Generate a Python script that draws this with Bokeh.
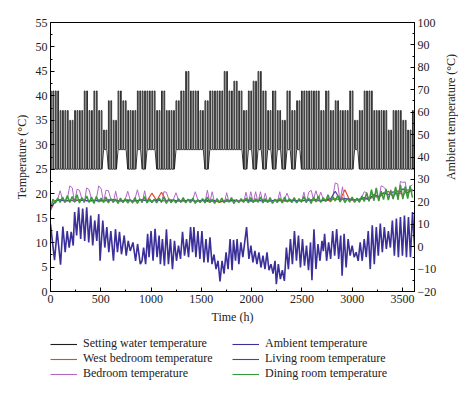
import math
from bokeh.plotting import figure
from bokeh.layouts import column, row
from bokeh.models import (Range1d, LinearAxis, SingleIntervalTicker, Legend, LegendItem, Label)
from bokeh.embed import file_html
from bokeh.resources import INLINE

# ---------------- data ----------------
# Setting water temperature: high / low level in each 48-h block
water_high = [41, 41, 37, 37, 35, 37, 37, 41, 37, 41,
              37, 33, 39, 35, 41, 39, 37, 37, 41, 41,
              41, 41, 37, 41, 37, 37, 39, 41, 45, 41,
              41, 37, 39, 41, 41, 41, 45, 41, 43, 41,
              37, 41, 43, 45, 41, 37, 41, 37, 35, 41,
              37, 39, 41, 41, 41, 41, 37, 41, 37, 39,
              37, 37, 41, 35, 37, 41, 41, 37, 37, 37,
              33, 37, 37, 35, 33, 37]
water_low = [25, 25, 25, 25, 25, 25, 25, 25, 25, 25,
             25, 29, 25, 25, 29, 29, 25, 25, 29, 25,
             29, 29, 25, 25, 25, 25, 29, 29, 29, 29,
             29, 29, 25, 29, 29, 29, 29, 29, 29, 29,
             25, 29, 25, 29, 25, 29, 25, 29, 25, 29,
             25, 29, 25, 25, 25, 25, 25, 25, 25, 25,
             25, 25, 25, 29, 25, 25, 25, 25, 25, 25,
             25, 25, 25, 25, 25, 25]
water_block_h = 48     # hours covered by each list entry
water_day_h = 24       # one switching cycle per day
water_on_h = 8         # hours at the high level in each cycle

# Ambient temperature (right axis): turning points, time (h) and value (°C)
amb_t = [0, 40, 66, 100, 123, 146, 166, 186, 206, 226, 240, 260, 280, 300, 320, 340,
         360, 380, 400, 420, 440, 460, 480, 493, 520, 540, 560, 580, 600, 626, 646, 666,
         686, 706, 733, 753, 773, 793, 820, 846, 866, 893,
         910, 926, 946, 966, 980, 1000, 1020, 1040, 1060, 1080, 1093, 1113, 1133, 1153,
         1173, 1193, 1213, 1233, 1253, 1273, 1293, 1313, 1333, 1353, 1373, 1393, 1413,
         1426, 1446, 1466, 1486, 1506, 1526, 1546, 1566, 1586, 1606, 1626, 1646, 1666,
         1686, 1706, 1726, 1746, 1766, 1786, 1806,
         1820, 1840, 1856, 1873, 1893, 1913, 1933, 1950, 1973, 1993, 2013, 2033, 2053,
         2073, 2093, 2113, 2133, 2153, 2173, 2193, 2213, 2233, 2246, 2266, 2286, 2306,
         2326, 2346, 2366, 2386, 2406, 2426, 2446, 2466, 2486, 2506, 2526, 2546, 2566,
         2586, 2600, 2620, 2640, 2660, 2680, 2700, 2713,
         2726, 2746, 2766, 2786, 2806, 2826, 2846, 2866, 2886, 2900, 2920, 2940, 2960,
         2980, 3000, 3020, 3040, 3060, 3080, 3100, 3120, 3140, 3160, 3180, 3200, 3220,
         3240, 3260, 3280, 3300, 3320, 3340, 3360, 3380, 3400, 3420, 3440, 3460, 3480,
         3500, 3520, 3540, 3560, 3580, 3600, 3620]
amb_v = [10, -6, 7, -8, 9, -2.5, 7, -0.4, 6.6, 0.5, 15.4, 5, 17.6, 3.4, 17, 2.6,
         17.6, 1.9, 13.9, 0.5, 11.7, 2.6, 14.5, -6.3, 11.7, -0.4, 8.7, -2.5, 7, -6.3, 7.8, -2.5,
         6.6, -3.4, 5, -4, 2.6, -1.9, 1.9, -6.3, 1.2, -7.8,
         -6.3, -0.4, -7.8, 5.7, -4.7, 7, -6.3, 8, -4.7, 5, -7.8, 3.4, -8.5, 7.8,
         -7.8, 3.4, -10, 2.6, -6.3, 0.5, -5.5, 6.6, -4, 3.4, -4.7, 8.7, -2.5,
         8.7, -4.7, 7, -5.5, 7, -7, 3.4, -7, 4.2, -7.8, -3.5, -10, -6.3,
         -15.5, -6.3, -12, -2.5, -10, 3.4, -10.5,
         3, -6.3, 3.4, -7.8, 1.9, -4.7, 2.6, 8.7, -5.5, 0.5, -7, -1.9, -7.8,
         -2.5, -9.3, -4, -10, -2.5, -10.5, -7.8, -12, -6.3, -16.7, -7.8, -14.5, -10.5,
         -15.3, -0.4, -10, 3.4, -7.8, 7, -6.3, 5, -9.3, 3.4, -8.5, 0.5, -10.5,
         1.9, -15, 7.8, -10, 1.2, -6.3, 2.6, -2,
         5.7, -6.3, 1.9, -5.5, 7, -4, 7.8, -5.5, 5, -13, 5.7, -9.3, 3.4,
         -4, 0.5, -4.7, -2.5, -6.3, 1.9, -6.3, 3.4, -4.7, 7, -10, 9.5, -7.8,
         8.7, -4, 10.3, -2.5, 8.7, -1, 7, -0.4, 11.7, -4, 12.5, -4.7, 13.2,
         -4, 13.9, -4.7, 13.2, -4.7, 15.4, 0]

# Room temperatures (left axis)
room_step_h = 24
dining = [16.8, 18.9, 18.1, 19.1, 18.2, 19.3, 18.3, 19.6, 18.2, 19.4,
          18.3, 19.8, 18.1, 19.2, 18.4, 19.5, 18.2, 19.3, 18.0, 19.4,
          18.3, 19.1, 18.2, 19.3, 18.1, 19.0, 18.3, 18.9, 18.0, 19.1,
          18.2, 19.0, 18.1, 18.8, 18.2, 19.2, 18.0, 18.9, 18.3, 19.4,
          18.1, 19.0, 18.2, 18.9, 18.1, 19.1, 18.3, 19.3, 18.0, 19.0,
          18.2, 18.8, 18.1, 19.0, 18.3, 19.2, 18.1, 18.9, 18.2, 19.1,
          18.0, 18.8, 18.2, 19.0, 18.1, 19.3, 18.2, 18.9, 18.0, 19.0,
          18.2, 19.1, 18.1, 18.9, 18.3, 19.2, 18.0, 18.8, 18.2, 19.0,
          18.3, 19.1, 18.1, 19.2, 18.2, 19.0, 18.3, 19.3, 18.1, 19.0,
          18.2, 19.2, 18.0, 18.9, 18.2, 19.1, 18.1, 19.3, 18.3, 19.0,
          18.2, 19.2, 18.1, 19.0, 18.3, 19.4, 18.2, 19.1, 18.0, 19.3,
          18.3, 19.5, 18.2, 19.2, 18.4, 19.8, 18.3, 19.4, 18.5, 19.6,
          18.3, 19.2, 18.2, 19.0, 18.4, 19.3, 18.2, 19.1, 18.3, 19.5,
          18.4, 20.2, 18.5, 20.8, 18.6, 21.2, 18.5, 20.5, 18.8, 21.0,
          18.7, 20.6, 18.9, 21.4, 18.8, 21.8, 18.9, 21.5, 19.0, 21.6, 19.2]
bedroom = [16.5, 18.7, 18.0, 18.9, 20.6, 18.8, 18.1, 19.0, 21.6, 21.2,
           18.2, 20.9, 20.7, 18.9, 18.1, 21.2, 20.8, 18.9, 18.2, 19.0,
           21.6, 21.0, 18.2, 20.7, 20.6, 18.9, 18.1, 20.5, 18.2, 18.9,
           18.1, 18.9, 20.5, 18.8, 18.0, 18.9, 20.8, 18.9, 18.1, 20.6,
           18.2, 18.9, 18.1, 18.8, 18.2, 18.9, 18.1, 20.4, 20.3, 18.9,
           18.1, 18.9, 20.2, 18.8, 18.1, 18.9, 18.2, 18.8, 18.1, 18.9,
           20.4, 18.8, 18.2, 18.9, 18.1, 20.7, 18.2, 20.4, 18.1, 18.9,
           18.2, 18.8, 18.1, 20.2, 18.2, 18.9, 18.0, 18.8, 18.2, 18.9,
           18.1, 20.3, 18.2, 20.4, 18.1, 20.4, 18.2, 20.4, 18.1, 20.1,
           18.2, 18.9, 18.1, 18.8, 18.2, 20.4, 18.1, 18.9, 20.1, 18.8,
           18.2, 18.9, 18.1, 18.9, 18.2, 20.3, 18.1, 20.3, 20.7, 18.9,
           20.6, 18.9, 20.3, 18.9, 18.3, 19.2, 18.4, 19.5, 22.2, 22.0,
           18.5, 21.4, 18.3, 19.0, 18.2, 19.2, 18.3, 19.0, 18.2, 19.3,
           20.4, 20.2, 18.4, 20.3, 18.6, 21.0, 18.5, 21.6, 21.4, 20.8,
           18.8, 20.8, 18.9, 21.2, 18.8, 22.5, 22.3, 22.4, 19.1, 21.5, 21.8]
room2_step_h = 48
west_bedroom = [16.6, 18.6, 18.8, 18.5, 18.7, 18.4, 18.8, 18.6, 18.5, 18.7,
                18.4, 18.6, 18.8, 18.5, 18.6, 18.4, 18.7, 18.5, 18.6, 18.8,
                18.5, 20.1, 18.6, 20.3, 18.5, 18.7, 18.4, 18.6, 18.5, 18.7,
                18.4, 18.6, 18.5, 18.3, 18.6, 18.2, 18.5, 18.4, 18.6, 18.5,
                18.7, 18.5, 18.4, 18.6, 18.5, 18.4, 18.6, 18.5, 18.7, 18.4,
                18.6, 18.5, 18.7, 18.5, 18.8, 18.6, 18.5, 18.7, 18.6, 19.0,
                18.7, 20.8, 18.6, 18.8, 18.7, 19.0, 18.8, 19.5, 19.2, 20.0,
                20.5, 19.4, 20.6, 19.6, 20.8, 20.4]
living_room = [17.0, 18.5, 18.7, 18.6, 18.5, 18.8, 18.6, 18.7, 18.5, 18.6,
               18.7, 18.5, 18.6, 18.8, 18.5, 18.6, 18.7, 18.5, 18.6, 18.7,
               18.6, 18.5, 18.7, 18.6, 18.5, 18.7, 18.6, 18.5, 18.6, 18.7,
               18.5, 18.6, 18.7, 18.5, 18.6, 18.4, 18.5, 18.6, 18.7, 18.5,
               18.6, 18.7, 18.5, 18.6, 18.7, 18.5, 18.6, 18.7, 18.5, 18.6,
               18.7, 18.6, 18.5, 18.7, 18.6, 18.8, 18.6, 18.7, 18.9, 20.5,
               18.8, 19.0, 18.9, 18.7, 18.9, 19.2, 19.0, 19.8, 19.4, 20.2,
               19.8, 20.4, 19.9, 21.0, 20.2, 20.9]

x_ticks_interval = 500
left_ticks_interval = 5
right_ticks_interval = 10

series_labels = ["Setting water temperature", "West bedroom temperature", "Bedroom temperature",
                 "Ambient temperature", "Living room temperature", "Dining room temperature"]
series_colors = ["#1e1e1e", "#e8442c", "#b266c8", "#3b2f9a", "#4a3fa8", "#3a9a3a"]

# ---------------- derived geometry ----------------
wx, wy = [], []
for k, (hi, lo) in enumerate(zip(water_high, water_low)):
    t0 = k * water_block_h
    for j in range(water_block_h // water_day_h):
        a = t0 + j * water_day_h
        wx += [a, a, a + water_on_h, a + water_on_h]
        wy += [lo, hi, hi, lo]

t_room = [i * room_step_h for i in range(len(dining))]
t_room2 = [i * room2_step_h for i in range(len(west_bedroom))]

FONT = "Liberation Serif"
TXT = "#222222"
FW, FH = 364, 269
TOP, LEFT, RIGHT, BOTTOM = 22, 50, 28, 40
MAIN_H = TOP + FH + BOTTOM

p = figure(frame_width=FW, frame_height=FH, x_range=Range1d(0, 3620), y_range=Range1d(0, 55),
           output_backend="svg", toolbar_location=None,
           min_border_left=LEFT, min_border_right=RIGHT, min_border_top=TOP,
           min_border_bottom=BOTTOM)
p.extra_y_ranges = {"amb": Range1d(-20, 100)}

widths = [0.9, 1.2, 1.0, 1.6, 1.2, 1.5]
r_water = p.line(wx, wy, line_color=series_colors[0], line_width=widths[0])
r_west = p.line(t_room2, west_bedroom, line_color=series_colors[1], line_width=widths[1])
r_bed = p.line(t_room, bedroom, line_color=series_colors[2], line_width=widths[2])
r_liv = p.line(t_room2, living_room, line_color=series_colors[4], line_width=widths[4])
r_din = p.line(t_room, dining, line_color=series_colors[5], line_width=widths[5])
r_amb = p.line(amb_t, amb_v, line_color=series_colors[3], line_width=widths[3],
               y_range_name="amb")

ax_r = LinearAxis(y_range_name="amb")
p.add_layout(ax_r, "right")

p.xaxis.ticker = SingleIntervalTicker(interval=x_ticks_interval, num_minor_ticks=2)
p.yaxis[0].ticker = SingleIntervalTicker(interval=left_ticks_interval, num_minor_ticks=2)
ax_r.ticker = SingleIntervalTicker(interval=right_ticks_interval, num_minor_ticks=2)

p.xaxis.axis_label = "Time (h)"
p.yaxis[0].axis_label = "Temperature (°C)"

for ax in p.axis:
    ax.major_tick_in = 4
    ax.major_tick_out = 0
    ax.minor_tick_in = 2
    ax.minor_tick_out = 0
    ax.axis_line_color = "black"
    ax.major_tick_line_color = "black"
    ax.minor_tick_line_color = "black"
    ax.major_label_text_font = FONT
    ax.major_label_text_font_size = "12px"
    ax.major_label_text_color = TXT
    ax.axis_label_text_font = FONT
    ax.axis_label_text_font_size = "12px"
    ax.axis_label_text_font_style = "normal"
    ax.axis_label_text_color = TXT
    ax.major_label_standoff = 3
    ax.axis_label_standoff = 4

p.grid.visible = False
p.outline_line_color = "black"
p.outline_line_alpha = 1

# ---- right-hand axis title (reads bottom-to-top), in its own narrow strip ----
LAB_W = 16
lab = figure(width=LAB_W, height=MAIN_H, x_range=Range1d(0, 1), y_range=Range1d(0, 1),
             output_backend="svg", toolbar_location=None, min_border=0,
             x_axis_location=None, y_axis_location=None)
lab.outline_line_color = None
lab.grid.visible = False
lab.add_layout(Label(x=LAB_W / 2, y=BOTTOM + FH / 2, x_units="screen", y_units="screen",
                     text="Ambient temperature (°C)", angle=math.pi / 2,
                     text_align="center", text_baseline="middle",
                     text_font=FONT, text_font_size="12px", text_color=TXT))

# ---- legend strip below the chart (swatch renderers sit outside the strip's range) ----
LEG_W, LEG_H = LEFT + FW + RIGHT + LAB_W, 62
leg = figure(width=LEG_W, height=LEG_H, x_range=Range1d(0, 1), y_range=Range1d(0, 1),
             output_backend="svg", toolbar_location=None, min_border=0,
             x_axis_location=None, y_axis_location=None)
leg.outline_line_color = None
leg.grid.visible = False
off_range = [-5, -4]
swatches = [leg.line(off_range, off_range, line_color=c, line_width=1.1)
            for c in series_colors]


def make_legend(idx, x):
    lg = Legend(items=[LegendItem(label=series_labels[i], renderers=[swatches[i]]) for i in idx],
                location=(x, 12))
    lg.label_text_font = FONT
    lg.label_text_font_size = "12px"
    lg.label_text_color = TXT
    lg.glyph_width = 27
    lg.label_standoff = 6
    lg.label_height = 12
    lg.glyph_height = 12
    lg.spacing = 0
    lg.padding = 0
    lg.margin = 0
    lg.border_line_color = None
    lg.background_fill_alpha = 0
    return lg


leg.add_layout(make_legend([0, 1, 2], 50))
leg.add_layout(make_legend([3, 4, 5], 232))

layout = column(row(p, lab, spacing=0), leg, spacing=0)

open("out.html", "w").write(file_html(layout, INLINE))
